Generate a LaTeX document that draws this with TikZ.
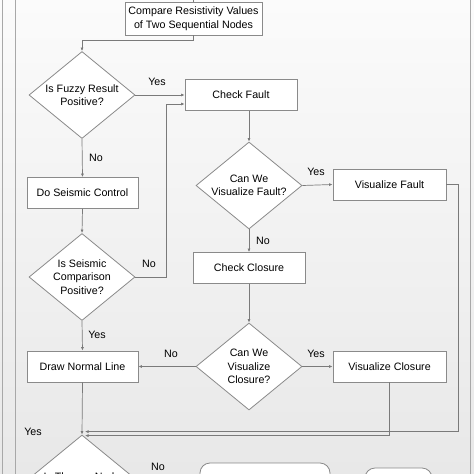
\documentclass[tikz,border=0pt]{standalone}
\usepackage{fontspec}
\setmainfont{Liberation Sans}
\usetikzlibrary{shapes.geometric,arrows.meta}
\definecolor{bgtop}{HTML}{FBFBFB}
\definecolor{bgbot}{HTML}{E8E8E8}
\definecolor{ln}{HTML}{7A7A7A}
\definecolor{bx}{HTML}{8A8A8A}
\definecolor{fr}{HTML}{A8A8A8}
\begin{document}
\begin{tikzpicture}[x=1pt,y=-1pt,
  font=\fontsize{10.7}{13.5}\selectfont,
  procbox/.style={draw=bx, fill=white, line width=0.8pt, minimum width=#1, minimum height=31pt, inner sep=0pt, align=center},
  decision/.style={diamond, draw=bx, fill=white, line width=0.8pt, minimum width=106pt, minimum height=87pt, inner sep=0pt},
  dtext/.style={align=center, inner sep=0pt},
  conn/.style={draw=ln, line width=0.7pt, -{Latex[length=3.5pt,width=3pt]}},
  plain/.style={draw=ln, line width=0.7pt},
  lbl/.style={inner sep=0pt},
  term/.style={draw=bx, fill=white, line width=0.8pt, rounded corners=10pt, inner sep=0pt}]
\useasboundingbox (0,0) rectangle (474,474);
\clip (0,0) rectangle (474,474);
\shade[top color=bgtop, bottom color=bgbot] (0,0) rectangle (474,474);
\draw[fr, line width=1pt] (2,0) -- (2,474);
\draw[fr, line width=1pt] (15,0) -- (15,474);
\draw[fr, line width=1pt] (470,0) -- (470,474);

% nodes
\node[procbox=137pt, minimum height=33pt] (cmp) at (193.5,18.5) {Compare Resistivity Values\\of Two Sequential Nodes};
\coordinate (topin) at (193.5,-2);
\node[decision] (d1) at (82,95) {};
\node[dtext] (t1) at (d1) {Is Fuzzy Result\\Positive?};
\node[procbox=112pt] (fault) at (241,95) {Check Fault};
\node[procbox=111pt] (seis) at (82.5,193) {Do Seismic Control};
\node[decision] (d2) at (82,277) {};
\node[dtext] (t2) at (d2) {Is Seismic\\Comparison\\Positive?};
\node[procbox=111pt] (normal) at (82.5,366.5) {Draw Normal Line};
\node[decision] (d3) at (249,185.5) {};
\node[dtext] (t3) at (d3) {Can We\\Visualize Fault?};
\node[procbox=113pt] (vfault) at (389.5,184.5) {Visualize Fault};
\node[procbox=112pt] (closure) at (249,268) {Check Closure};
\node[decision] (d4) at (249,366.5) {};
\node[dtext] (t4) at (d4) {Can We\\Visualize\\Closure?};
\node[procbox=113pt] (vclos) at (389.5,366.5) {Visualize Closure};
\node[decision] (d5) at (82,478.5) {};
\node[dtext] (t5) at (82,476.5) {Is There a Node};
\node[term, minimum width=130pt, minimum height=40pt] (term1) at (265,483) {};
\node[term, minimum width=67pt, minimum height=40pt] (term2) at (398.5,488) {};

% connectors
\draw[plain] (topin) -- (cmp.north);
\draw[conn] (cmp.south) -- ++(0,5) -| (d1.north);
\draw[conn] (d1.east) -- (fault.west);
\draw[conn] (d2.east) -- ++(31,0) |- ([yshift=-9pt]fault.west);
\draw[conn] (d1.south) -- (seis.north);
\draw[conn] (seis.south) -- (d2.north);
\draw[conn] (d2.south) -- (normal.north);
\draw[conn] ([xshift=8pt]fault.south) -- (d3.north);
\draw[conn] (d3.east) -- (vfault.west);
\draw[conn] (d3.south) -- (closure.north);
\draw[conn] (closure.south) -- (d4.north);
\draw[conn] (d4.west) -- (normal.east);
\draw[conn] (d4.east) -- (vclos.west);
\draw[conn] (vfault.east) -- ++(12,0) |- ([xshift=3pt,yshift=3pt]d5.north);
\draw[conn] (vclos.south) |- ([xshift=3pt,yshift=-1pt]d5.north);
\draw[conn] (normal.south) -- (d5.north);

% labels
\node[lbl] (l1) at (157,82) {Yes};
\node[lbl] (l2) at (149,264) {No};
\node[lbl] (l3) at (96,158) {No};
\node[lbl] (l4) at (97,335) {Yes};
\node[lbl] (l5) at (316,172) {Yes};
\node[lbl] (l6) at (263,241) {No};
\node[lbl] (l7) at (171,354) {No};
\node[lbl] (l8) at (316,354) {Yes};
\node[lbl] (l9) at (33,432) {Yes};
\node[lbl] (l10) at (158,467) {No};
\end{tikzpicture}
\end{document}
